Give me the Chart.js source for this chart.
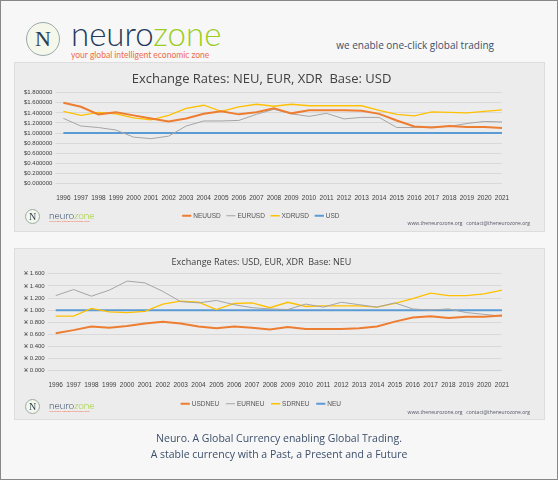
<!DOCTYPE html>
<html>
<head>
<meta charset="utf-8">
<script src="https://cdn.jsdelivr.net/npm/chart.js@4"></script>
<style>
  body { margin: 0; width: 558px; height: 480px; background: #f7f7f7; font-family: "Open Sans", sans-serif; overflow: hidden; }
  .frame { position: absolute; left: 0; top: 0; width: 556px; height: 478px; border: 1px solid #888; }
  .panel { position: absolute; left: 14px; width: 529px; background: #ececec; border: 1px solid #ddd; }
  .logo { position: absolute; display: flex; align-items: center; }
  .circ { border-radius: 50%; border: 1px solid #9aa; display: flex; align-items: center; justify-content: center; color: #2b3e55; font-family: "Liberation Serif", serif; background: #f4f7ea; }
  .brand { font-family: "Lato", sans-serif; font-weight: 300; line-height: 1; }
  .brand .n { color: #1f3a5a; }
  .brand .z { color: #9acd1f; }
  .tag { color: #ef6a4a; font-family: "Lato", sans-serif; }
  .urls { position: absolute; right: 14px; font-size: 5px; color: #556; }
</style>
</head>
<body>
<div class="frame"></div>

<div class="logo" style="left:26px; top:17px;">
  <div class="circ" style="width:32px;height:32px;font-size:22px;">N</div>
  <div style="margin-left:11px;">
    <div class="brand" style="font-size:33px;"><span class="n">neuro</span><span class="z">zone</span></div>
    <div class="tag" style="font-size:8.5px;margin-top:0px;">your global intelligent economic zone</div>
  </div>
</div>
<div style="position:absolute; right:64px; top:38px; font-size:10px; color:#3d4f6a;">we enable one-click global trading</div>

<div class="panel" style="top:62px; height:168px;">
  <canvas id="chart1"></canvas>
  <div class="logo" style="left:10px; top:146px;">
    <div class="circ" style="width:13px;height:13px;font-size:10px;">N</div>
    <div style="margin-left:9px;">
      <div class="brand" style="font-size:10px;"><span class="n">neuro</span><span class="z">zone</span></div>
      <div class="tag" style="font-size:2.5px;">your global intelligent economic zone</div>
    </div>
  </div>
  <div class="urls" style="top:157px;">www.theneurozone.org &nbsp; contact@theneurozone.org</div>
</div>

<div class="panel" style="top:248px; height:170px;">
  <canvas id="chart2"></canvas>
  <div class="logo" style="left:10px; top:150px;">
    <div class="circ" style="width:13px;height:13px;font-size:10px;">N</div>
    <div style="margin-left:9px;">
      <div class="brand" style="font-size:10px;"><span class="n">neuro</span><span class="z">zone</span></div>
      <div class="tag" style="font-size:2.5px;">your global intelligent economic zone</div>
    </div>
  </div>
  <div class="urls" style="top:160px;">www.theneurozone.org &nbsp; contact@theneurozone.org</div>
</div>

<div style="position:absolute; left:0; width:558px; top:430px; text-align:center; font-size:10.5px; color:#3d4f6a; line-height:16px;">
  Neuro. A Global Currency enabling Global Trading.<br>A stable currency with a Past, a Present and a Future
</div>

<script>
const years = ['1996','1997','1998','1999','2000','2001','2002','2003','2004','2005','2006','2007','2008','2009','2010','2011','2012','2013','2014','2015','2016','2017','2018','2019','2020','2021'];

const neuUsd = [1.60,1.52,1.37,1.41,1.35,1.29,1.23,1.29,1.38,1.43,1.37,1.41,1.49,1.39,1.45,1.45,1.45,1.44,1.38,1.25,1.13,1.11,1.14,1.12,1.12,1.10];
const eurUsd = [1.29,1.14,1.11,1.06,0.92,0.89,0.94,1.14,1.24,1.24,1.25,1.37,1.47,1.38,1.33,1.39,1.28,1.31,1.31,1.11,1.11,1.12,1.13,1.19,1.23,1.22];
const xdrUsd = [1.43,1.35,1.41,1.38,1.30,1.26,1.35,1.49,1.55,1.43,1.52,1.57,1.53,1.57,1.54,1.54,1.54,1.54,1.45,1.37,1.34,1.42,1.41,1.40,1.43,1.46];
const usd = years.map(() => 1.0);

const usdNeu = [0.62,0.67,0.73,0.71,0.74,0.78,0.81,0.78,0.73,0.70,0.73,0.71,0.68,0.72,0.69,0.69,0.69,0.70,0.73,0.81,0.88,0.90,0.87,0.89,0.89,0.91];
const eurNeu = [1.24,1.34,1.23,1.33,1.48,1.45,1.31,1.14,1.12,1.16,1.09,1.04,1.02,1.01,1.10,1.05,1.13,1.09,1.05,1.12,1.02,1.00,1.02,0.96,0.93,0.90];
const sdrNeu = [0.90,0.90,1.03,0.97,0.96,0.98,1.10,1.15,1.13,1.01,1.11,1.12,1.04,1.13,1.06,1.07,1.07,1.07,1.05,1.11,1.19,1.28,1.24,1.24,1.27,1.33];
const neu = years.map(() => 1.0);

const ORANGE = '#ed7d31', GRAY = '#a5a5a5', GOLD = '#ffc000', BLUE = '#5b9bd5';

function ds(label, data, color, width) {
  return { label: label, data: data, borderColor: color, backgroundColor: color, borderWidth: width, pointRadius: 0, tension: 0 };
}

function makeChart(id, title, titleSize, sets, fmt, max, legendPad) {
  new Chart(document.getElementById(id), {
    type: 'line',
    data: { labels: years, datasets: sets },
    options: {
      responsive: true,
      maintainAspectRatio: false,
      animation: false,
      layout: { padding: { left: 6, right: 42, top: 0, bottom: 2 } },
      plugins: {
        title: { display: true, text: title, color: '#404040', font: { size: titleSize, family: 'Open Sans', weight: 'normal' }, padding: { top: 8, bottom: 6 } },
        legend: {
          position: 'bottom',
          labels: { usePointStyle: true, pointStyle: 'line', boxWidth: 22, color: '#555', font: { size: 6.5 }, padding: legendPad }
        },
        tooltip: { enabled: false }
      },
      scales: {
        x: { grid: { display: false }, border: { display: false }, ticks: { color: '#404040', font: { size: 6.5 }, maxRotation: 0, autoSkip: false } },
        y: {
          min: 0, max: max,
          border: { display: false },
          grid: { color: '#d9d9d9' },
          ticks: { stepSize: 0.2, autoSkip: false, color: '#404040', font: { size: 6 }, callback: fmt }
        }
      }
    }
  });
}

makeChart('chart1', 'Exchange Rates: NEU, EUR, XDR  Base: USD', 13,
  [ds('NEUUSD', neuUsd, ORANGE, 2), ds('EURUSD', eurUsd, GRAY, 1), ds('XDRUSD', xdrUsd, GOLD, 1.3), ds('USD', usd, BLUE, 2)],
  v => '$' + Number(v).toFixed(6), 1.8, 7);

makeChart('chart2', 'Exchange Rates: USD, EUR, XDR  Base: NEU', 9,
  [ds('USDNEU', usdNeu, ORANGE, 2), ds('EURNEU', eurNeu, GRAY, 1), ds('SDRNEU', sdrNeu, GOLD, 1.3), ds('NEU', neu, BLUE, 2)],
  v => 'Ӿ ' + Number(v).toFixed(3), 1.6, 8);
</script>
</body>
</html>
